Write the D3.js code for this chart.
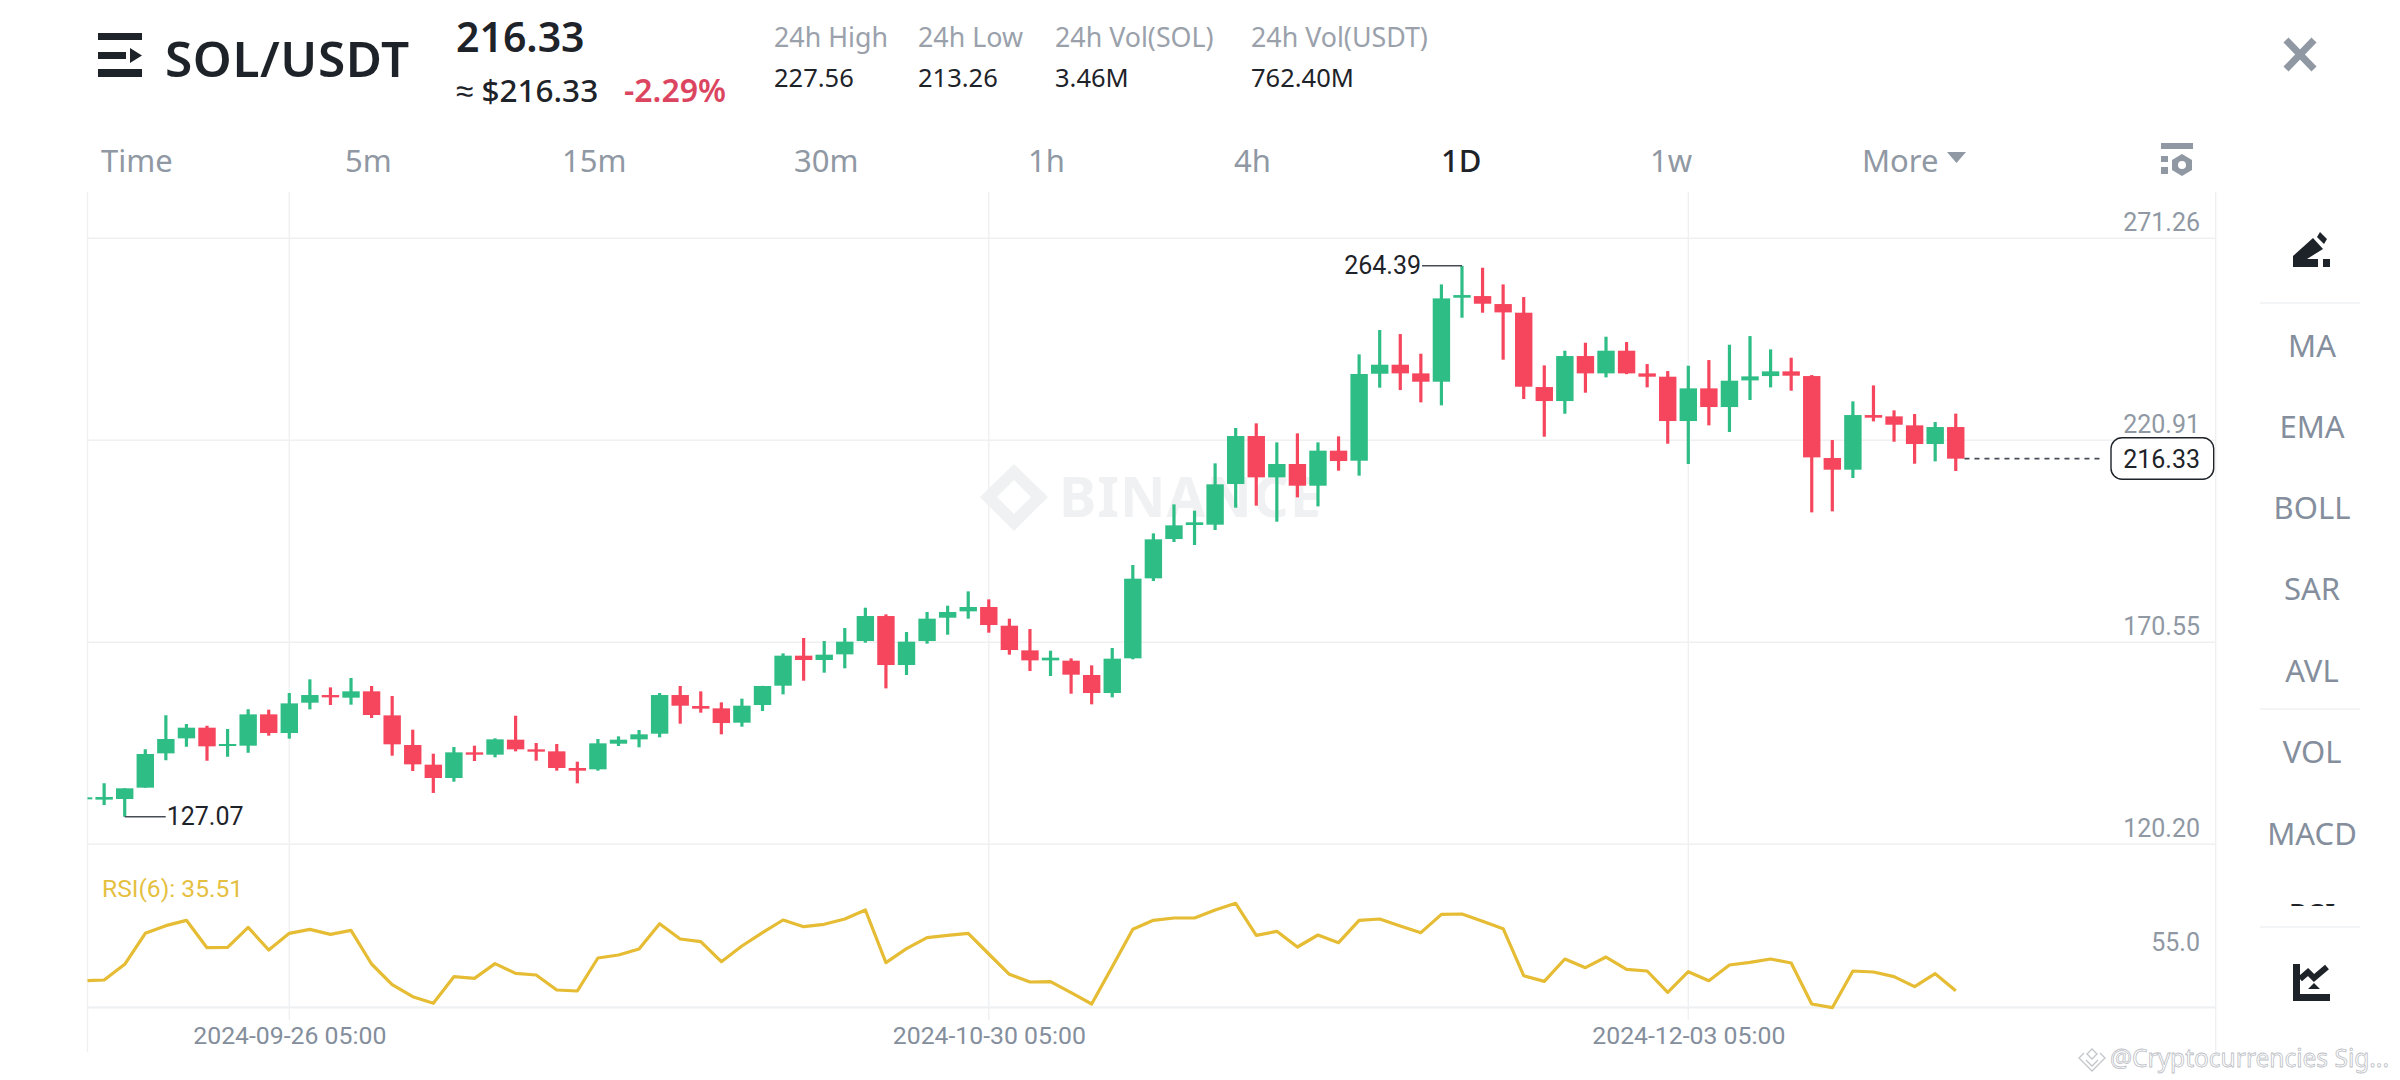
<!DOCTYPE html>
<html>
<head>
<meta charset="utf-8">
<script src="https://cdn.jsdelivr.net/npm/d3@7"></script>
<style>
  html, body { margin: 0; padding: 0; background: #fff; overflow: hidden; }
  svg { display: block; }
  text { font-family: "Noto Sans", sans-serif; }
  .num { font-family: Roboto, sans-serif; }
</style>
</head>
<body>
<div id="chart"></div>
<script>
// daily candles, 2024-09-16 .. 2024-12-16
var firstDay = new Date(Date.UTC(2024, 8, 16));
var lastDay = new Date(Date.UTC(2024, 11, 16));
var days = d3.utcDay.range(firstDay, d3.utcDay.offset(lastDay, 1));

var opens = [131.41,131.33,131.49,134.32,142.87,146.61,149.27,144.70,144.78,152.59,147.94,155.50,157.41,156.75,158.33,152.34,144.95,140.05,136.73,143.12,142.54,146.28,143.87,143.37,139.22,138.89,145.28,146.36,147.77,157.41,154.67,154.09,150.52,154.92,159.74,167.22,166.14,167.55,170.87,177.10,164.89,170.87,176.69,178.27,179.35,174.69,168.54,166.05,165.97,162.40,157.91,166.56,186.50,196.30,199.79,199.87,210.01,221.97,211.67,215.00,209.59,218.32,215.82,237.50,239.75,237.59,235.51,256.45,256.86,254.87,252.71,234.18,230.69,241.91,237.59,243.24,237.59,236.76,225.71,233.85,229.20,235.84,236.92,238.09,236.92,216.49,213.58,227.20,226.87,224.63,219.98,224.21];
var closes = [131.91,131.99,134.15,142.71,146.45,149.27,144.62,145.20,152.59,147.94,155.33,157.41,156.83,158.33,152.43,145.12,140.13,136.73,143.12,142.54,146.36,143.87,143.29,139.22,138.55,145.37,146.28,147.61,157.41,154.75,154.01,150.43,154.75,159.66,167.22,166.14,167.47,170.71,177.10,164.89,170.71,176.44,178.10,179.35,174.86,168.63,166.05,166.72,162.48,157.91,166.47,186.41,196.22,199.71,200.46,209.93,221.97,211.67,215.00,209.59,218.32,215.74,237.43,239.75,237.59,235.51,256.28,257.11,254.95,252.79,234.26,230.69,241.91,237.59,243.24,237.59,236.76,225.71,233.85,229.20,235.76,236.84,238.09,237.01,216.65,213.58,227.20,226.54,224.79,219.98,224.21,216.33];
var highs = [132.49,135.40,134.20,143.87,152.34,150.18,149.77,148.94,153.84,153.76,157.91,161.32,159.32,161.65,159.66,157.16,148.77,142.79,144.45,144.78,146.61,152.26,145.45,145.20,140.80,146.45,147.11,148.69,157.91,159.66,158.33,155.58,156.50,159.70,167.80,171.62,170.87,174.11,179.18,177.52,173.11,178.10,179.68,183.25,181.26,176.44,173.86,168.46,166.55,164.81,169.13,189.82,197.71,204.94,203.36,215.16,223.97,225.13,220.39,222.64,220.39,221.89,242.32,248.39,247.39,242.49,259.77,264.39,263.92,259.77,256.61,239.58,243.24,245.23,246.73,245.40,239.91,238.17,239.50,240.91,244.73,246.89,243.57,241.49,237.17,220.97,230.61,234.60,228.37,227.45,225.46,227.56];
var lows = [130.83,130.00,127.07,134.30,141.13,144.53,141.05,142.04,143.04,147.28,146.53,153.84,154.92,155.00,151.68,142.29,138.47,133.00,135.81,140.96,141.88,143.37,141.05,138.55,135.40,138.55,144.70,144.37,146.86,150.27,153.01,147.61,149.52,153.42,157.58,160.98,162.98,164.06,170.46,159.07,162.40,170.21,172.45,176.44,172.95,167.47,163.39,162.15,157.74,155.09,156.83,166.31,185.83,195.55,194.81,198.54,204.11,204.61,200.62,206.69,204.44,213.33,212.09,234.02,233.43,230.36,229.61,251.46,252.71,241.00,231.19,221.80,227.53,232.77,236.59,237.40,234.10,220.06,214.99,224.63,222.97,230.94,234.10,233.27,202.94,203.19,211.50,225.62,220.56,215.07,215.66,213.26];
var rsi = [41.88,42.30,52.25,71.93,76.80,80.18,62.83,63.04,75.74,61.35,71.93,74.47,71.30,73.84,52.46,39.34,31.72,27.49,44.42,43.36,52.67,46.53,45.48,35.95,35.32,56.27,58.17,61.98,78.07,68.33,66.64,53.94,63.89,72.35,80.40,76.16,77.65,81.03,86.75,53.31,62.20,69.18,70.66,71.93,58.81,45.90,41.03,41.24,34.26,27.06,50.77,74.47,80.18,81.67,81.67,86.75,90.98,70.66,73.20,63.25,70.87,66.00,80.18,81.03,76.59,72.35,84.00,84.21,79.55,74.89,45.05,41.45,55.63,50.13,56.90,49.07,48.02,34.47,47.59,41.88,51.82,53.52,55.63,53.10,27.06,24.73,48.02,47.38,44.42,38.07,46.32,35.51];

var priceTicks = [271.26, 220.91, 170.55, 120.20];
var rsiTicks = [55.0];
var dateTicks = [new Date(Date.UTC(2024, 8, 26)), new Date(Date.UTC(2024, 9, 30)), new Date(Date.UTC(2024, 11, 3))];
var lastPrice = 216.33;
var maxPrice = 264.39;
var minPrice = 127.07;

var statLabels = ["24h High", "24h Low", "24h Vol(SOL)", "24h Vol(USDT)"];
var statValues = ["227.56", "213.26", "3.46M", "762.40M"];
var intervals = ["Time", "5m", "15m", "30m", "1h", "4h", "1D", "1w", "More"];
var indicators = ["MA", "EMA", "BOLL", "SAR", "AVL", "VOL", "MACD"];

var GREEN = "#2ebd85", RED = "#f6465d", INK = "#1e2329", GREY = "#8f98a3", GRID = "#eff0f2";

var svg = d3.select("#chart").append("svg").attr("width", 2400).attr("height", 1080);

var x = d3.scaleUtc().domain([dateTicks[0], dateTicks[1]]).range([289.3, 988.8]);
var y = d3.scaleLinear().domain([120.20, 271.26]).range([844.3, 238.3]);
var yRsi = d3.scaleLinear().domain([55, 35.51]).range([960, 990.7]);

var left = 87.5, right = 2215.7, bottomLine = 1007.3;

svg.append("clipPath").attr("id", "plot").append("rect")
  .attr("x", left).attr("y", 190).attr("width", right - left).attr("height", 860);

// grid
var grid = svg.append("g").attr("stroke", GRID).attr("fill", "none");
grid.selectAll(".h").data(priceTicks).enter().append("line")
  .attr("x1", left).attr("x2", right)
  .attr("y1", function (d) { return y(d); })
  .attr("y2", function (d) { return y(d); })
  .attr("stroke-width", 1.6);
grid.append("line").attr("x1", left).attr("x2", right).attr("y1", bottomLine).attr("y2", bottomLine).attr("stroke-width", 2.2);
grid.selectAll(".v").data(dateTicks).enter().append("line")
  .attr("x1", function (d) { return x(d); })
  .attr("x2", function (d) { return x(d); })
  .attr("y1", 192).attr("y2", 1020).attr("stroke-width", 1.4);
grid.selectAll(".edge").data([left, right]).enter().append("line")
  .attr("x1", function (d) { return d; })
  .attr("x2", function (d) { return d; })
  .attr("y1", 192).attr("y2", 1052).attr("stroke-width", 1.4);

// watermark behind the candles
var wm = svg.append("g").attr("fill", "#f0f1f2");
wm.append("path").attr("fill-rule", "evenodd")
  .attr("d", "M1014 464L1048 497L1014 531L980 497ZM1014 480L997 497L1014 514L1031 497Z");
wm.append("text").attr("x", 1059).attr("y", 517).attr("font-size", 56).attr("font-weight", 700)
  .attr("letter-spacing", 1).text("BINANCE");

// candles
var candles = svg.append("g").attr("clip-path", "url(#plot)");
var bodyWidth = 17.4;
days.forEach(function (day, i) {
  var color = closes[i] >= opens[i] ? GREEN : RED;
  var px = x(day);
  candles.append("line")
    .attr("x1", px).attr("x2", px)
    .attr("y1", y(highs[i])).attr("y2", y(lows[i]))
    .attr("stroke", color).attr("stroke-width", 3.2);
  candles.append("rect")
    .attr("x", px - bodyWidth / 2).attr("width", bodyWidth)
    .attr("y", y(Math.max(opens[i], closes[i])))
    .attr("height", Math.abs(y(opens[i]) - y(closes[i])))
    .attr("fill", color);
});

// rsi line
var rsiLine = d3.line()
  .x(function (d, i) { return x(days[i]); })
  .y(function (d) { return yRsi(d); });
svg.append("path").datum(rsi)
  .attr("clip-path", "url(#plot)")
  .attr("fill", "none").attr("stroke", "#e5bc33").attr("stroke-width", 3.2)
  .attr("stroke-linejoin", "round")
  .attr("d", rsiLine);
svg.append("text").attr("class", "num").attr("x", 102).attr("y", 897)
  .attr("font-size", 24.6).attr("fill", "#e5bf3f").text("RSI(6): 35.51");

// axes
function cleanAxis(g) {
  g.select(".domain").remove();
  g.selectAll("line").remove();
  g.selectAll("text").attr("class", "num").attr("font-family", "Roboto, sans-serif");
}
svg.append("g").attr("transform", "translate(2200,-8)")
  .call(d3.axisLeft(y).tickValues(priceTicks).tickFormat(d3.format(".2f")).tickSize(0).tickPadding(0))
  .call(cleanAxis)
  .selectAll("text").attr("font-size", 25).attr("fill", GREY).attr("dy", 0);
svg.append("g").attr("transform", "translate(2200,-10)")
  .call(d3.axisLeft(yRsi).tickValues(rsiTicks).tickFormat(d3.format(".1f")).tickSize(0).tickPadding(0))
  .call(cleanAxis)
  .selectAll("text").attr("font-size", 25).attr("fill", GREY).attr("dy", 0);
svg.append("g").attr("transform", "translate(0,1044)")
  .call(d3.axisBottom(x).tickValues(dateTicks).tickFormat(d3.utcFormat("%Y-%m-%d 05:00")).tickSize(0).tickPadding(0))
  .call(cleanAxis)
  .selectAll("text").attr("font-size", 24.8).attr("fill", "#848e9c").attr("y", 0).attr("dy", 0);

// last price tag
var lastX = x(days[days.length - 1]) + bodyWidth / 2;
svg.append("line").attr("x1", lastX).attr("x2", 2103)
  .attr("y1", y(lastPrice)).attr("y2", y(lastPrice))
  .attr("stroke", "#474d57").attr("stroke-width", 1.6).attr("stroke-dasharray", "5 5");
svg.append("rect").attr("x", 2111).attr("y", 437.7).attr("width", 102.7).attr("height", 41.6).attr("rx", 11)
  .attr("fill", "#fff").attr("stroke", INK).attr("stroke-width", 1.4);
svg.append("text").attr("class", "num").attr("x", 2200).attr("y", 468).attr("text-anchor", "end")
  .attr("font-size", 25).attr("fill", INK).text(d3.format(".2f")(lastPrice));

// high / low markers
var hiX = x(days[highs.indexOf(maxPrice)]);
var loX = x(days[lows.indexOf(minPrice)]);
svg.append("path").attr("fill", "none").attr("stroke", "#474d57").attr("stroke-width", 1.5)
  .attr("d", "M" + hiX + "," + y(maxPrice) + "H" + (hiX - 40));
svg.append("path").attr("fill", "none").attr("stroke", "#474d57").attr("stroke-width", 1.5)
  .attr("d", "M" + loX + "," + y(minPrice) + "H" + (loX + 41));
svg.append("text").attr("class", "num").attr("x", hiX - 41).attr("y", y(maxPrice) + 8).attr("text-anchor", "end")
  .attr("font-size", 25).attr("fill", INK).text(maxPrice);
svg.append("text").attr("class", "num").attr("x", loX + 42).attr("y", y(minPrice) + 8)
  .attr("font-size", 25).attr("fill", INK).text(minPrice);

// header
var logo = svg.append("g").attr("fill", INK);
logo.append("path").attr("d", "M98 33H142V40H98ZM98 69H142V77H98ZM98 52H126V59H98ZM130 48L142 55.5L130 63Z");
svg.append("text").attr("x", 165).attr("y", 77).attr("font-size", 49.5).attr("font-weight", 600)
  .attr("letter-spacing", 0.6).attr("fill", INK).text("SOL/USDT");
svg.append("text").attr("x", 456).attr("y", 52).attr("font-size", 41).attr("font-weight", 600).attr("fill", INK).text("216.33");
svg.append("text").attr("x", 456).attr("y", 102).attr("font-size", 31.5).attr("font-weight", 500).attr("fill", INK).text("≈ $216.33");
svg.append("text").attr("x", 624).attr("y", 102).attr("font-size", 32).attr("font-weight", 600).attr("fill", "#dc4560").text("-2.29%");

var statX = [774, 918, 1055, 1251];
svg.selectAll(".statLabel").data(statLabels).enter().append("text")
  .attr("x", function (d, i) { return statX[i]; }).attr("y", 47)
  .attr("font-size", 26.8).attr("fill", "#9aa1ab")
  .text(function (d) { return d; });
svg.selectAll(".statValue").data(statValues).enter().append("text")
  .attr("x", function (d, i) { return statX[i]; }).attr("y", 87)
  .attr("font-size", 25.5).attr("fill", INK)
  .text(function (d) { return d; });

// interval tabs
var tabX = [101, 345, 562, 794, 1028, 1234, 1441, 1650, 1862];
svg.selectAll(".tab").data(intervals).enter().append("text")
  .attr("x", function (d, i) { return tabX[i]; }).attr("y", 172)
  .attr("font-size", 31).attr("font-weight", function (d) { return d === "1D" ? 500 : 400; })
  .attr("fill", function (d) { return d === "1D" ? INK : "#8f98a3"; })
  .text(function (d) { return d; });
svg.append("path").attr("fill", "#8f98a3").attr("d", "M1947 152H1966L1956.5 163Z");
// settings icon
svg.append("path").attr("fill", "#8f98a3").attr("fill-rule", "evenodd")
  .attr("d", "M2161 143H2193V149H2161ZM2161 156H2168V162H2161ZM2161 167H2168V174H2161ZM2182 154L2192 160V170L2182 176L2172 170V160ZM2182 161A4 4 0 1 0 2182.01 169A4 4 0 1 0 2182 161Z");
// close
svg.append("path").attr("fill", "none").attr("stroke", "#8f98a3").attr("stroke-width", 7)
  .attr("d", "M2286 40L2314 69M2314 40L2286 69");

// right side panel
var sideY = [357, 438, 519, 600, 682, 763, 845];
svg.selectAll(".side").data(indicators).enter().append("text")
  .attr("x", 2312).attr("y", function (d, i) { return sideY[i]; })
  .attr("text-anchor", "middle").attr("font-size", 31).attr("fill", "#848e9c")
  .text(function (d) { return d; });
svg.selectAll(".sideRule").data([303, 709, 927]).enter().append("line")
  .attr("x1", 2260).attr("x2", 2360)
  .attr("y1", function (d) { return d; }).attr("y2", function (d) { return d; })
  .attr("stroke", GRID).attr("stroke-width", 1.3);
svg.append("clipPath").attr("id", "rsiCut").append("rect").attr("x", 2270).attr("y", 902).attr("width", 90).attr("height", 4);
svg.append("text").attr("clip-path", "url(#rsiCut)").attr("x", 2312).attr("y", 926)
  .attr("text-anchor", "middle").attr("font-size", 31).attr("fill", INK).text("RSI");
// pencil
svg.append("path").attr("fill", INK)
  .attr("d", "M2293 267V256L2313 238L2323 249L2307 259H2318V267ZM2317 237L2320 232L2327 239L2324 244ZM2323 259H2330V267H2323Z");
// chart icon
svg.append("path").attr("fill", INK)
  .attr("d", "M2293 964H2300V994H2330V1001H2293ZM2314 983L2320 989H2308Z");
svg.append("path").attr("fill", "none").attr("stroke", INK).attr("stroke-width", 6)
  .attr("d", "M2300 979L2308 972L2314 978L2327 967");

// user watermark, bottom right
svg.append("path").attr("fill", "none").attr("stroke", "#c2c6cb").attr("stroke-width", 1.3)
  .attr("d", "M2092 1049L2097 1054L2092 1059L2087 1054ZM2084 1053L2079 1058L2092 1071L2105 1058L2100 1053M2086 1060L2092 1066L2098 1060");
svg.append("text").attr("x", 2110).attr("y", 1067).attr("font-size", 24.5)
  .attr("fill", "#fff").attr("stroke", "#bcc0c5").attr("stroke-width", 0.8)
  .text("@Cryptocurrencies Sig...");
</script>
</body>
</html>
